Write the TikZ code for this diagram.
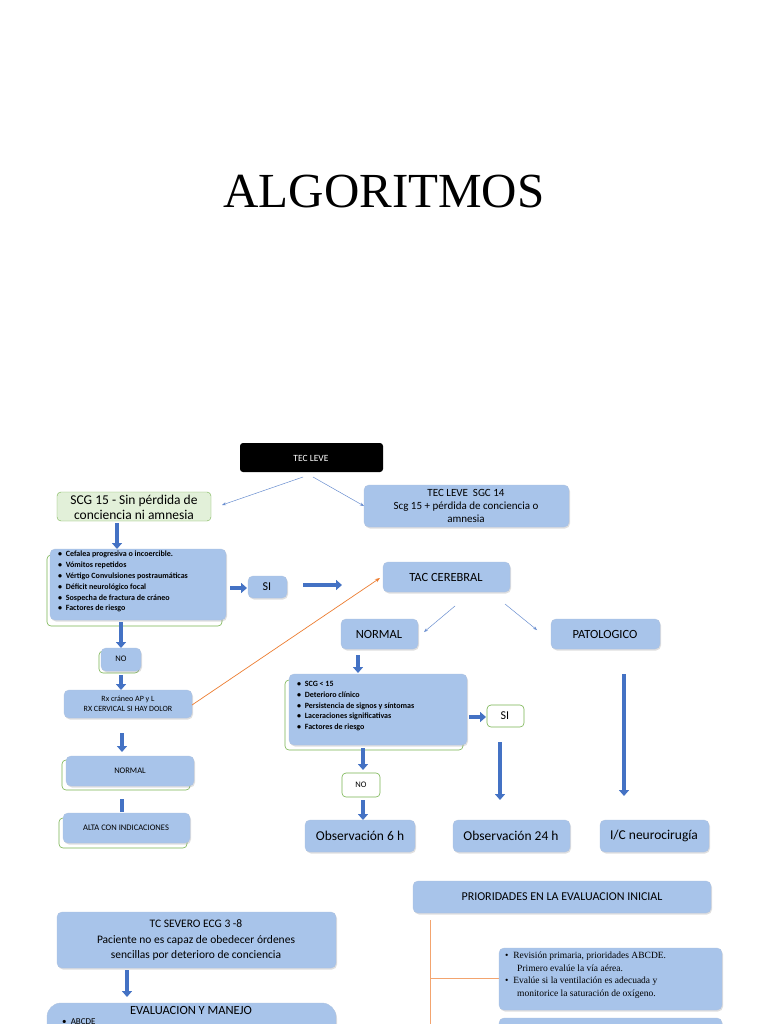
\documentclass[tikz,border=0pt]{standalone}
\usepackage{fontspec}
\setmainfont{Carlito}
\newfontfamily\serifx{Liberation Serif}
\usetikzlibrary{arrows.meta,shadows}
\definecolor{bx}{RGB}{168,196,234}
\definecolor{bxd}{RGB}{120,155,205}
\definecolor{gb}{RGB}{120,180,80}
\definecolor{gf}{RGB}{226,240,217}
\definecolor{ar}{RGB}{68,114,196}
\definecolor{or}{RGB}{237,125,49}
\begin{document}
\begin{tikzpicture}[x=1pt,y=-1pt,
 box/.style={draw=bxd!60,fill=bx,rounded corners=5pt,drop shadow={opacity=0.25,shadow xshift=1pt,shadow yshift=-1.5pt}},
 gbox/.style={draw=gb,line width=0.6pt,rounded corners=4pt},
 thick arrow/.style={draw=ar,line width=4pt,-{Triangle[length=6pt,width=10pt]}},
 thin arrow/.style={draw=ar!80,line width=0.5pt,-{Stealth[length=4pt]}},
 txt/.style={align=center,font=\fontsize{11}{13}\selectfont},
 stxt/.style={align=center,font=\fontsize{8.5}{10}\selectfont},
 blist/.style={align=left,font=\bfseries\fontsize{8}{10.8}\selectfont,inner sep=0pt}]
\useasboundingbox (0,0) rectangle (768,1024);
\clip (0,0) rectangle (768,1024);
\fill[white] (0,0) rectangle (768,1024);
\node (title) at (384,192) {\serifx\fontsize{49}{54}\selectfont ALGORITMOS};
% TEC LEVE
\fill[black,rounded corners=3pt] (240,443) rectangle (383,472);
\node[white,font=\fontsize{9.5}{11}\selectfont] (tec) at (311,458) {TEC LEVE};
\coordinate (t1) at (303,477); \coordinate (t2) at (313,477);
\fill[gf,draw=gb,rounded corners=4pt] (57,492) rectangle (211,521);
\node[txt,font=\fontsize{13.5}{15}\selectfont] (scg) at (134,507) {SCG 15 - Sin pérdida de\\conciencia ni amnesia};
\draw[box] (364,485) rectangle (569,527);
\node[txt,font=\fontsize{11}{13}\selectfont] (tls) at (466,506) {TEC LEVE\ \ SGC 14\\Scg 15 + pérdida de conciencia o\\amnesia};
\draw[thin arrow] (t1) -- (222,505);
\draw[thin arrow] (t2) -- (364,506);
% left column
\draw[thick arrow] (117,523) -- (117,549);
\draw[gbox] (47,555) rectangle (222,626);
\draw[box] (50,549) rectangle (226,620);
\node[blist,anchor=north west] (l1) at (58,551) {\textbullet\ \ Cefalea progresiva o incoercible.\\\textbullet\ \ Vómitos repetidos\\\textbullet\ \ Vértigo Convulsiones postraumáticas\\\textbullet\ \ Déficit neurológico focal\\\textbullet\ \ Sospecha de fractura de cráneo\\\textbullet\ \ Factores de riesgo};
\draw[thick arrow] (230,588) -- (247,588);
\draw[box] (248,576) rectangle (287,598);
\node[txt,font=\fontsize{12}{14}\selectfont] (si1) at (267,587) {SI};
\draw[thick arrow] (303,585) -- (342,585);
\draw[box] (383,562) rectangle (510,592);
\node[txt,font=\fontsize{12.5}{14}\selectfont] (tac) at (446,577) {TAC CEREBRAL};
\draw[thick arrow] (121,622) -- (121,648);
\draw[gbox] (99,651) rectangle (139,673);
\draw[box] (101,648) rectangle (141,671);
\node[stxt] (no1) at (121,659) {NO};
\draw[thick arrow] (121,675) -- (121,690);
\draw[box] (64,690) rectangle (192,718);
\node[stxt,font=\fontsize{8}{10}\selectfont] (rx) at (128,704) {Rx cráneo AP y L\\RX CERVICAL SI HAY DOLOR};
\draw[draw=or,line width=0.7pt,-{Stealth[length=5pt]}] (192,705) -- (380,578);
\draw[thick arrow] (122,733) -- (122,752);
\draw[gbox] (62,760) rectangle (190,790);
\draw[box] (66,756) rectangle (194,786);
\node[stxt] (nor1) at (130,771) {NORMAL};
\draw[draw=ar,line width=4pt] (122,799) -- (122,812);
\draw[gbox] (59,818) rectangle (187,848);
\draw[box] (63,813) rectangle (190,843);
\node[stxt] (alta) at (126,828) {ALTA CON INDICACIONES};
% middle
\draw[thin arrow] (455,606) -- (424,632);
\draw[thin arrow] (505,604) -- (537,630);
\draw[box] (341,619) rectangle (418,649);
\node[txt,font=\fontsize{12.5}{14}\selectfont] (nor2) at (379,634) {NORMAL};
\draw[box] (551,619) rectangle (660,649);
\node[txt,font=\fontsize{12.5}{14}\selectfont] (pat) at (605,634) {PATOLOGICO};
\draw[thick arrow] (358,655) -- (358,673);
\draw[gbox] (285,680) rectangle (463,750);
\draw[box] (289,674) rectangle (467,745);
\node[blist,anchor=north west] (l2) at (297,681) {\textbullet\ \ SCG < 15\\\textbullet\ \ Deterioro clínico\\\textbullet\ \ Persistencia de signos y síntomas\\\textbullet\ \ Laceraciones significativas\\\textbullet\ \ Factores de riesgo};
\draw[thick arrow] (469,717) -- (486,717);
\draw[gbox,fill=white] (487,705) rectangle (524,727);
\node[txt,font=\fontsize{12}{14}\selectfont] (si2) at (505,716) {SI};
\draw[thick arrow] (363,748) -- (363,770);
\draw[gbox,fill=white] (342,773) rectangle (380,797);
\node[stxt] (no2) at (361,785) {NO};
\draw[thick arrow] (363,800) -- (363,820);
\draw[thick arrow] (500,742) -- (500,800);
\draw[thick arrow] (624,674) -- (624,796);
\draw[box] (305,820) rectangle (415,852);
\node[txt,font=\fontsize{13.5}{15}\selectfont] (o6) at (360,836) {Observación 6 h};
\draw[box] (453,820) rectangle (570,852);
\node[txt,font=\fontsize{13.5}{15}\selectfont] (o24) at (511,836) {Observación 24 h};
\draw[box] (600,820) rectangle (709,852);
\node[txt,font=\fontsize{13.5}{15}\selectfont] (ic) at (654,836) {I/C neurocirugía};
% bottom
\draw[box] (413,881) rectangle (711,913);
\node[txt,font=\fontsize{12}{14}\selectfont] (pri) at (562,897) {PRIORIDADES EN LA EVALUACION INICIAL};
\draw[or!70,line width=1pt] (430,920) -- (430,1024);
\draw[or!70,line width=1pt] (430,978) -- (500,978);
\draw[box] (499,948) rectangle (722,1010);
\node[align=left,anchor=north west,inner sep=0pt,font=\serifx\fontsize{9.5}{12.5}\selectfont] (l3) at (505,952) {\textbullet\ \ Revisión primaria, prioridades ABCDE.\\\hspace*{12pt}Primero evalúe la vía aérea.\\\textbullet\ \ Evalúe si la ventilación es adecuada y\\\hspace*{12pt}monitorice la saturación de oxígeno.};
\draw[box] (499,1018) rectangle (722,1060);
\draw[box] (57,912) rectangle (336,968);
\node[txt,font=\fontsize{11.5}{15.5}\selectfont] (tcs) at (196,940) {TC SEVERO ECG 3 -8\\Paciente no es capaz de obedecer órdenes\\sencillas por deterioro de conciencia};
\draw[thick arrow] (127,970) -- (127,997);
\draw[box,rounded corners=14pt] (47,1003) rectangle (336,1080);
\node[txt,font=\fontsize{12.5}{14}\selectfont] (ev) at (191,1010) {EVALUACION Y MANEJO};
\node[blist,anchor=north west,font=\fontsize{9}{10}\selectfont] (ab) at (62,1018) {\textbullet\ \ ABCDE};
\end{tikzpicture}
\end{document}
